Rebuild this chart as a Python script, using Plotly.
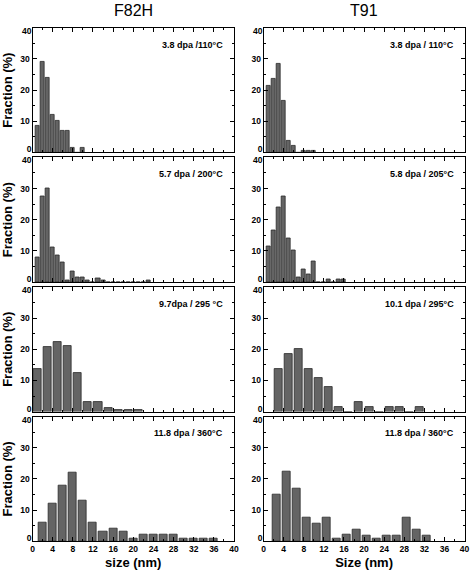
import plotly.graph_objects as go

# ---------------- data ----------------
col_titles = ["F82H", "T91"]
x_titles = ["size (nm)", "Size (nm)"]
y_title = "Fraction (%)"
y_ticks = [0, 10, 20, 30, 40]

f82h_1_x = [1, 2, 3, 4, 5, 6, 7, 8, 9, 10]
f82h_1_y = [8.5, 29, 24, 12, 10, 7, 7, 1.5, 0, 1.5]
f82h_1_label = "3.8 dpa /110°C"

t91_1_x = [1, 2, 3, 4, 5, 6, 7, 8, 9, 10]
t91_1_y = [21.5, 23.5, 28.5, 16.5, 3.6, 2.1, 0, 0.5, 0.5, 0.5]
t91_1_label = "3.8 dpa / 110°C"

f82h_2_x = list(range(1, 24))
f82h_2_y = [7.8, 27.5, 30, 11.2, 8.7, 6.2, 0.5, 3.5, 1.6, 1.6, 0.5, 0, 1.2, 0.5,
            0, 0, 0, 0, 0, 0, 0, 0, 0.5]
f82h_2_label = "5.7 dpa / 200°C"

t91_2_x = list(range(1, 17))
t91_2_y = [11.5, 16.5, 24, 27.5, 14, 10, 1.5, 4.2, 2.4, 6.7, 0, 0, 0.7, 0, 0.7, 0.7]
t91_2_label = "5.8 dpa / 205°C"

f82h_3_x = [1, 3, 5, 7, 9, 11, 13, 15, 17, 19, 21]
f82h_3_y = [13.8, 20.8, 22.5, 21.2, 12.5, 3, 3, 1.2, 0.5, 0.5, 0.5]
f82h_3_label = "9.7dpa / 295 °C"

t91_3_x = [3, 5, 7, 9, 11, 13, 15, 17, 19, 21, 23, 25, 27, 29, 31]
t91_3_y = [13.8, 18.5, 20, 13.8, 10.8, 7.8, 1.5, 0, 3, 1.5, 0, 1.5, 1.5, 0, 1.5]
t91_3_label = "10.1 dpa / 295°C"

f82h_4_x = [2, 4, 6, 8, 10, 12, 14, 16, 18, 20, 22, 24, 26, 28, 30, 32, 34, 36]
f82h_4_y = [6, 12, 18, 22, 13, 6, 3, 4, 3, 1, 2, 2, 2, 2, 1, 1, 1, 1]
f82h_4_label = "11.8 dpa / 360°C"

t91_4_x = [2.5, 4.5, 6.5, 8.5, 10.5, 12.5, 14.5, 16.5, 18.5, 20.5, 22.5, 24.5,
           26.5, 28.5, 30.5, 32.5]
t91_4_y = [15, 22.5, 17, 7.5, 5.7, 7.5, 1, 2, 3.8, 1.8, 1, 1.8, 1.8, 7.5, 3.8, 1.8]
t91_4_label = "11.8 dpa / 360°C"

bin_widths = [1, 1, 2, 2]  # per row

panels = [
    [(f82h_1_x, f82h_1_y, f82h_1_label), (t91_1_x, t91_1_y, t91_1_label)],
    [(f82h_2_x, f82h_2_y, f82h_2_label), (t91_2_x, t91_2_y, t91_2_label)],
    [(f82h_3_x, f82h_3_y, f82h_3_label), (t91_3_x, t91_3_y, t91_3_label)],
    [(f82h_4_x, f82h_4_y, f82h_4_label), (t91_4_x, t91_4_y, t91_4_label)],
]

# ---------------- layout ----------------
W, H = 474, 572
col_px = [(31, 235.5), (265.5, 469.5)]
top0, ph, gap = 26, 125.5, 5.0

FONT = "Liberation Sans, Arial, Helvetica, sans-serif"
TICKFONT = dict(family=FONT, size=8.5, color="black", weight="bold")
fig = go.Figure()
layout = dict(
    width=W, height=H, margin=dict(l=0, r=0, t=0, b=0),
    paper_bgcolor="white", plot_bgcolor="white", showlegend=False,
    font=dict(family=FONT, color="black"),
    bargap=0,
)
annotations = []

n_main = 8
extra = n_main  # index counter for overlay y axes
idx = 0
for r, row in enumerate(panels):
    top = top0 + r * (ph + gap)
    bot = top + ph
    ydom = [1 - bot / H, 1 - top / H]
    for c, (xs, ys, lab) in enumerate(row):
        idx += 1
        sfx = "" if idx == 1 else str(idx)
        xd = [col_px[c][0] / W, col_px[c][1] / W]
        fig.add_trace(go.Bar(
            x=xs, y=ys, width=[0.8 * bin_widths[r]] * len(xs),
            marker=dict(color="#646464", line=dict(color="#2a2a2a", width=0.8)),
            xaxis="x" + sfx, yaxis="y" + sfx, hoverinfo="skip",
        ))
        bottom_row = (r == len(panels) - 1)
        layout["xaxis" + sfx] = dict(
            domain=xd, anchor="y" + sfx, range=[0, 40],
            tickmode="linear", tick0=0, dtick=4,
            ticks="inside", ticklen=4, tickwidth=1, tickcolor="black",
            minor=dict(ticks="inside", dtick=2, ticklen=2, tickcolor="black"),
            showline=True, linecolor="black", linewidth=1, mirror="ticks",
            showgrid=False, zeroline=False,
            showticklabels=bottom_row,
            tickfont=TICKFONT,
        )
        if bottom_row:
            layout["xaxis" + sfx]["title"] = dict(
                text="<b>%s</b>" % x_titles[c], standoff=4,
                font=dict(family=FONT, size=13, color="black"))
        # main y axis: ticks, middle labels
        layout["yaxis" + sfx] = dict(
            domain=ydom, anchor="x" + sfx, range=[0, 40],
            tickmode="array", tickvals=y_ticks,
            ticktext=["" if v in (y_ticks[0], y_ticks[-1]) else str(v) for v in y_ticks],
            ticks="inside", ticklen=4, tickwidth=1, tickcolor="black",
            minor=dict(ticks="inside", dtick=5, ticklen=2, tickcolor="black"),
            showline=True, linecolor="black", linewidth=1, mirror="ticks",
            showgrid=False, zeroline=False,
            tickfont=TICKFONT,
        )
        if c == 0:
            layout["yaxis" + sfx]["title"] = dict(
                text="<b>%s</b>" % y_title, standoff=5,
                font=dict(family=FONT, size=13, color="black"))
        # overlay axes: end labels nudged inward (as in the reference)
        for val, shift in ((y_ticks[0], -3), (y_ticks[-1], 3)):
            extra += 1
            layout["yaxis%d" % extra] = dict(
                overlaying="y" + sfx, anchor="x" + sfx, side="left",
                range=[0, 40], tickmode="array", tickvals=[val], ticktext=[str(val)],
                ticks="", showline=False, showgrid=False, zeroline=False,
                ticklabelshift=shift, tickfont=TICKFONT,
            )
            # empty trace so the overlay axis is drawn
            fig.add_trace(go.Scatter(
                x=[None], y=[None], mode="markers", showlegend=False, hoverinfo="skip",
                xaxis="x" + sfx, yaxis="y%d" % extra,
            ))
        annotations.append(dict(
            text="<b>%s</b>" % lab, xref="x" + sfx + " domain", yref="y" + sfx + " domain",
            x=0.955, y=0.865, xanchor="right", yanchor="middle", showarrow=False,
            font=dict(family=FONT, size=9, color="black"),
        ))

for c, t in enumerate(col_titles):
    annotations.append(dict(
        text=t, xref="paper", yref="paper",
        x=(col_px[c][0] + col_px[c][1]) / 2 / W, y=1 - 9 / H,
        xanchor="center", yanchor="middle", showarrow=False,
        font=dict(family=FONT, size=16, color="black"),
    ))

layout["annotations"] = annotations
fig.update_layout(**layout)
fig.write_html("out.html")
